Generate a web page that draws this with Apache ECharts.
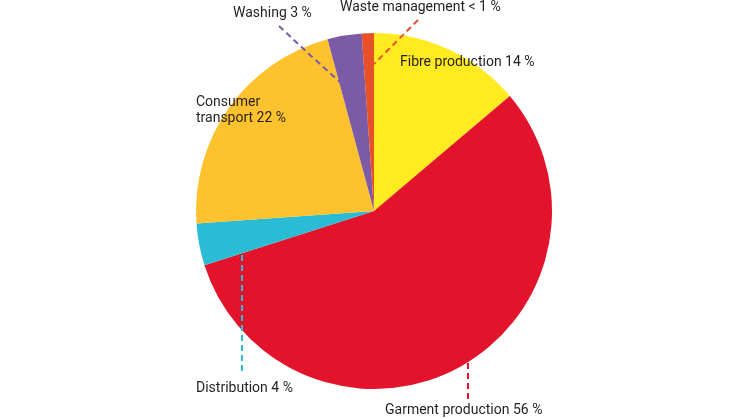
<!DOCTYPE html>
<html>
<head>
<meta charset="utf-8">
<style>
html,body{margin:0;padding:0;background:#fff;}
#c{width:745px;height:419px;}
</style>
<script src="https://cdn.jsdelivr.net/npm/echarts@6/dist/echarts.min.js"></script>
</head>
<body>
<div id="c"></div>
<script>
// Data (clockwise from 12 o'clock)
const categories = ['Fibre production', 'Garment production', 'Distribution', 'Consumer\ntransport', 'Washing', 'Waste management'];
const shareLabels = ['14 %', '56 %', '4 %', '22 %', '3 %', '< 1 %'];
const values = [13.8, 56.2, 3.8, 21.9, 3.1, 1.1];
const colors = ['#FFEB1F', '#E3132B', '#2BBCD5', '#FDC22E', '#7B5AA6', '#E8502A'];

// Label placement (pixels) and leader lines
const labelPlacement = [
  {x: 400, y: 62, align: 'left', line: null},
  {x: 385, y: 410, align: 'left', line: [[468, 399], [468, 380], [468, 360]]},
  {x: 196, y: 388, align: 'left', line: [[242, 371], [242, 312], [242, 253]]},
  {x: 196, y: 110, align: 'left', line: null},
  {x: 233, y: 13, align: 'left', line: [[279, 26], [310, 55], [342, 84]]},
  {x: 340, y: 7, align: 'left', line: [[418, 20], [396, 42], [374, 64]]}
];

const chart = echarts.init(document.getElementById('c'));
const pieData = categories.map((name, i) => ({
  name: name,
  value: values[i],
  itemStyle: {color: colors[i]}
}));
const labelData = categories.map((name, i) => ({
  name: name,
  value: values[i],
  itemStyle: {color: 'rgba(0,0,0,0)'},
  label: {formatter: name + ' ' + shareLabels[i]},
  labelLine: {
    show: !!labelPlacement[i].line,
    lineStyle: {color: colors[i], width: 2, type: [6, 4], opacity: 1}
  }
}));

const common = {
  type: 'pie',
  center: [374, 211],
  radius: 178,
  startAngle: 90,
  clockwise: true,
  avoidLabelOverlap: false
};

chart.setOption({
  animation: false,
  series: [
    Object.assign({}, common, {
      z: 2,
      silent: true,
      itemStyle: {borderWidth: 0},
      label: {show: false},
      labelLine: {show: false},
      data: pieData
    }),
    Object.assign({}, common, {
      z: 3,
      silent: true,
      itemStyle: {borderWidth: 0},
      label: {
        show: true,
        position: 'outside',
        fontFamily: 'Roboto',
        fontSize: 14,
        lineHeight: 16,
        color: '#231F20'
      },
      labelLine: {show: true, length: 5, length2: 5},
      labelLayout: function (params) {
        const p = labelPlacement[params.dataIndex];
        const out = {x: p.x, y: p.y, align: p.align, verticalAlign: 'middle'};
        if (p.line) out.labelLinePoints = p.line;
        return out;
      },
      data: labelData
    })
  ]
});
</script>
</body>
</html>
